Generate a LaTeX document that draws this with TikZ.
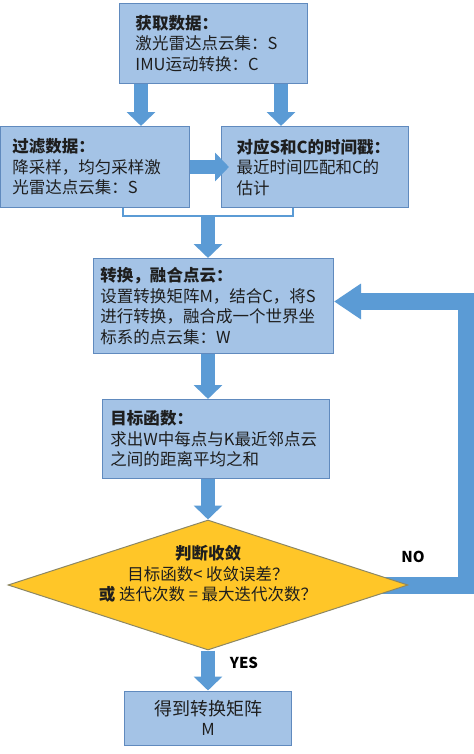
\documentclass[tikz,border=0pt]{standalone}
\usepackage{fontspec}
\setmainfont{Noto Sans CJK SC}
\usepackage{tikz}
\usetikzlibrary{shapes.geometric, arrows.meta, positioning, calc, backgrounds}
\definecolor{cBox}{RGB}{164,195,230}
\definecolor{cEdge}{RGB}{96,138,190}
\definecolor{cArrow}{RGB}{91,155,213}
\definecolor{cGold}{RGB}{255,198,40}
\definecolor{cOlive}{RGB}{140,135,100}
\definecolor{cInk}{RGB}{30,30,30}
\tikzset{
	stepbox/.style  ={rectangle, draw=cEdge, fill=cBox, line width=1pt, align=left, anchor=north west, inner ysep=0pt, text=cInk},
	endbox/.style   ={rectangle, draw=cEdge, fill=cBox, line width=1pt, align=center, text=cInk, minimum width=167bp, minimum height=54bp, inner sep=0pt},
	decision/.style ={diamond, aspect=3.08, minimum width=400bp, minimum height=130bp, inner sep=0pt, draw=cOlive, fill=cGold, line width=1pt},
	flag/.style     ={font=\fontsize{15bp}{18bp}\selectfont\bfseries, text=black},
	% block arrows
	blockarrow/.style={draw=cArrow, line width=13.5bp, -{Triangle[width=28bp, length=14bp]}, cArrow},
	looparrow/.style ={draw=cArrow, line width=17bp, line join=miter, -{Triangle[width=34bp, length=27bp]}, cArrow},
	bracketline/.style={draw=cArrow, line width=1.2pt},
}
\begin{document}
\begin{tikzpicture}[x=1bp, y=-1bp, font=\fontsize{16.5bp}{20.5bp}\selectfont]
	\useasboundingbox (0,0) rectangle (474,754);
	\node[stepbox, minimum width=188bp, minimum height=80bp, inner xsep=16bp, text width=156bp] (fetch) at (119,3)
		{\textbf{获取数据：}\\激光雷达点云集：S\\IMU运动转换：C};
	\node[stepbox, minimum width=189bp, minimum height=81bp, inner xsep=12bp, text width=165bp] (filter) at (0,126)
		{\textbf{过滤数据：}\\降采样，均匀采样激\\光雷达点云集：S};
	\node[stepbox, minimum width=187bp, minimum height=81bp, inner xsep=15bp, text width=157bp] (match) at (221,126)
		{\textbf{对应S和C的时间戳：}\\最近时间匹配和C的\\估计};
	\node[stepbox, minimum width=240bp, minimum height=95bp, inner xsep=7bp, text width=226bp] (fuse) at (93,258)
		{\textbf{转换，融合点云：}\\设置转换矩阵M，结合C，将S\\进行转换，融合成一个世界坐\\标系的点云集：W};
	\node[stepbox, minimum width=227bp, minimum height=79bp, inner xsep=8bp, text width=211bp] (check) at (102,399)
		{\textbf{目标函数：}\\求出W中每点与K最近邻点云\\之间的距离平均之和};
	\node[decision, label={[align=center, text=cInk, yshift=11bp]center:\textbf{判断收敛}\\目标函数< 收敛误差？\\\textbf{或} 迭代次数 = 最大迭代次数？}] (judge) at (208,585) {};
	\node[endbox] (result) at (208,718) {\fontsize{18bp}{22bp}\selectfont 得到转换矩阵\\M};
	\node[flag] (no) at (413,557) {NO};
	\node[flag] (yes) at (244,663) {YES};

	\coordinate (axis) at (208,0);
	\coordinate (leftdrop) at ($(fetch.south west)+(22,0)$);
	\coordinate (rightdrop) at ($(fetch.south east)+(-27,0)$);
	\coordinate (turnlow) at ($(judge.east)+(57.5,0)$);
	\coordinate (turnhigh) at (turnlow |- 0,301.5);

	\draw[blockarrow] (leftdrop) -- (leftdrop |- filter.north);
	\draw[blockarrow] (rightdrop) -- (rightdrop |- match.north);
	\draw[blockarrow] (filter.east) -- ([xshift=8bp]match.west);
	\draw[bracketline] ([xshift=123bp]filter.south west) -- ++(0,8) -| ([xshift=72bp]match.south west);
	\draw[blockarrow] (axis |- 0,215) -- (axis |- fuse.north);
	\draw[blockarrow] (axis |- fuse.south) -- (axis |- check.north);
	\draw[blockarrow] (axis |- check.south) -- (judge.north);
	\draw[blockarrow] (judge.south) -- (result.north);
	% NO branch back to the fusion step
	\begin{scope}[on background layer]
		\draw[looparrow] ([xshift=-40bp]judge.east) -- (turnlow) -- (turnhigh) -- (fuse.east |- turnhigh);
	\end{scope}
\end{tikzpicture}
\end{document}
